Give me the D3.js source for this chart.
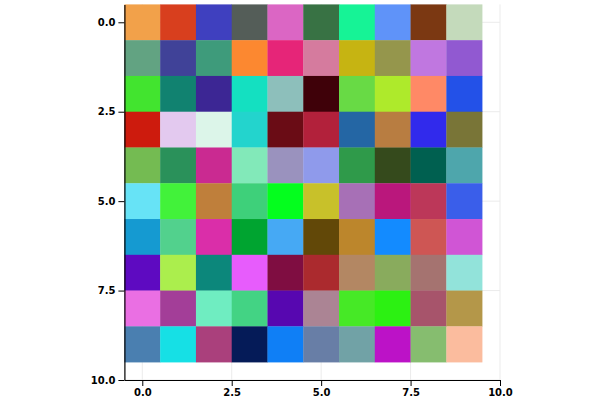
<!DOCTYPE html><html><head><script src="https://cdn.jsdelivr.net/npm/d3@7"></script>
<style>body{margin:0}</style></head><body><svg width="600" height="400"></svg><script>
const colors = [
["#f2a14a","#d83f1e","#3f40bf","#545d58","#db66c4","#387244","#16f396","#5f93f9","#7b3812","#c4dabb"],
["#62a382","#404298","#3e9b7b","#fc8830","#e62578","#d57b9e","#c6b412","#95964c","#c077e0","#9159d1"],
["#42e42f","#118270","#3c2694","#14e0c1","#8dbfbb","#3f0109","#68da45","#aeea2b","#ff8966","#2351e8"],
["#cd1b0d","#e3c9ef","#dcf5e9","#23d4cd","#6a0c15","#b2213b","#2466a4","#b87d41","#312aec","#797537"],
["#74bb52","#2a915a","#ca2a91","#82e9b9","#9a92be","#8f9aeb","#2f9a4a","#354a1c","#006050","#4ea6ac"],
["#67e3f6","#42f23a","#bf7f3b","#3ed07a","#04fe1e","#c8c12a","#a770b6","#ba177c","#bc3759","#3a5eea"],
["#159ad1","#52d18d","#da2ea9","#00a430","#46a9f4","#624808","#bc862c","#138bff","#ce5654","#d055d5"],
["#5e0ac1","#abee4d","#0c877b","#e75cfc","#7f0d41","#ab2a2e","#b38763","#89ab5d","#a57370","#92e3da"],
["#ea6fe3","#a33e98","#6fedc1","#43d384","#5707b0","#ab8494","#46e926","#2cf112","#a7546b","#b49749"],
["#4a7fb0","#16e0e5","#aa407c","#051b58","#0f7ff6","#687ea6","#71a2a6","#bc12c7","#86bd6f","#fbbc9e"]];
const ticks = [0,2.5,5,7.5,10];
const svg = d3.select("svg");
const x = d3.scaleLinear().domain([-0.5,10]).range([124.4,500]);
const y = d3.scaleLinear().domain([-0.5,10]).range([4.4,380]);
const g = svg.append("g");
ticks.forEach(t=>{
  g.append("line").attr("x1",x(t)).attr("x2",x(t)).attr("y1",y(-0.5)).attr("y2",y(10)).attr("stroke","#ebebeb");
  g.append("line").attr("y1",y(t)).attr("y2",y(t)).attr("x1",x(-0.5)).attr("x2",x(10)).attr("stroke","#ebebeb");
});
colors.forEach((row,i)=>row.forEach((c,j)=>{
  g.append("rect").attr("x",x(j-0.5)).attr("y",y(i-0.5)).attr("width",x(j+0.5)-x(j-0.5)+0.3).attr("height",y(i+0.5)-y(i-0.5)+0.3).attr("fill",c);
}));
const fmt = d3.format(".1f");
svg.append("g").attr("transform",`translate(0,${y(10)})`).call(d3.axisBottom(x).tickValues(ticks).tickFormat(fmt).tickSizeOuter(0))
 .call(a=>a.selectAll("text").attr("font-family","DejaVu Sans").attr("font-weight","bold").attr("font-size",10).attr("fill","#000"));
svg.append("g").attr("transform",`translate(${x(-0.5)},0)`).call(d3.axisLeft(y).tickValues(ticks).tickFormat(fmt).tickSizeOuter(0))
 .call(a=>a.selectAll("text").attr("font-family","DejaVu Sans").attr("font-weight","bold").attr("font-size",10).attr("fill","#000"));
svg.selectAll(".domain").attr("stroke","#000").attr("stroke-width",1.2);
</script></body></html>
